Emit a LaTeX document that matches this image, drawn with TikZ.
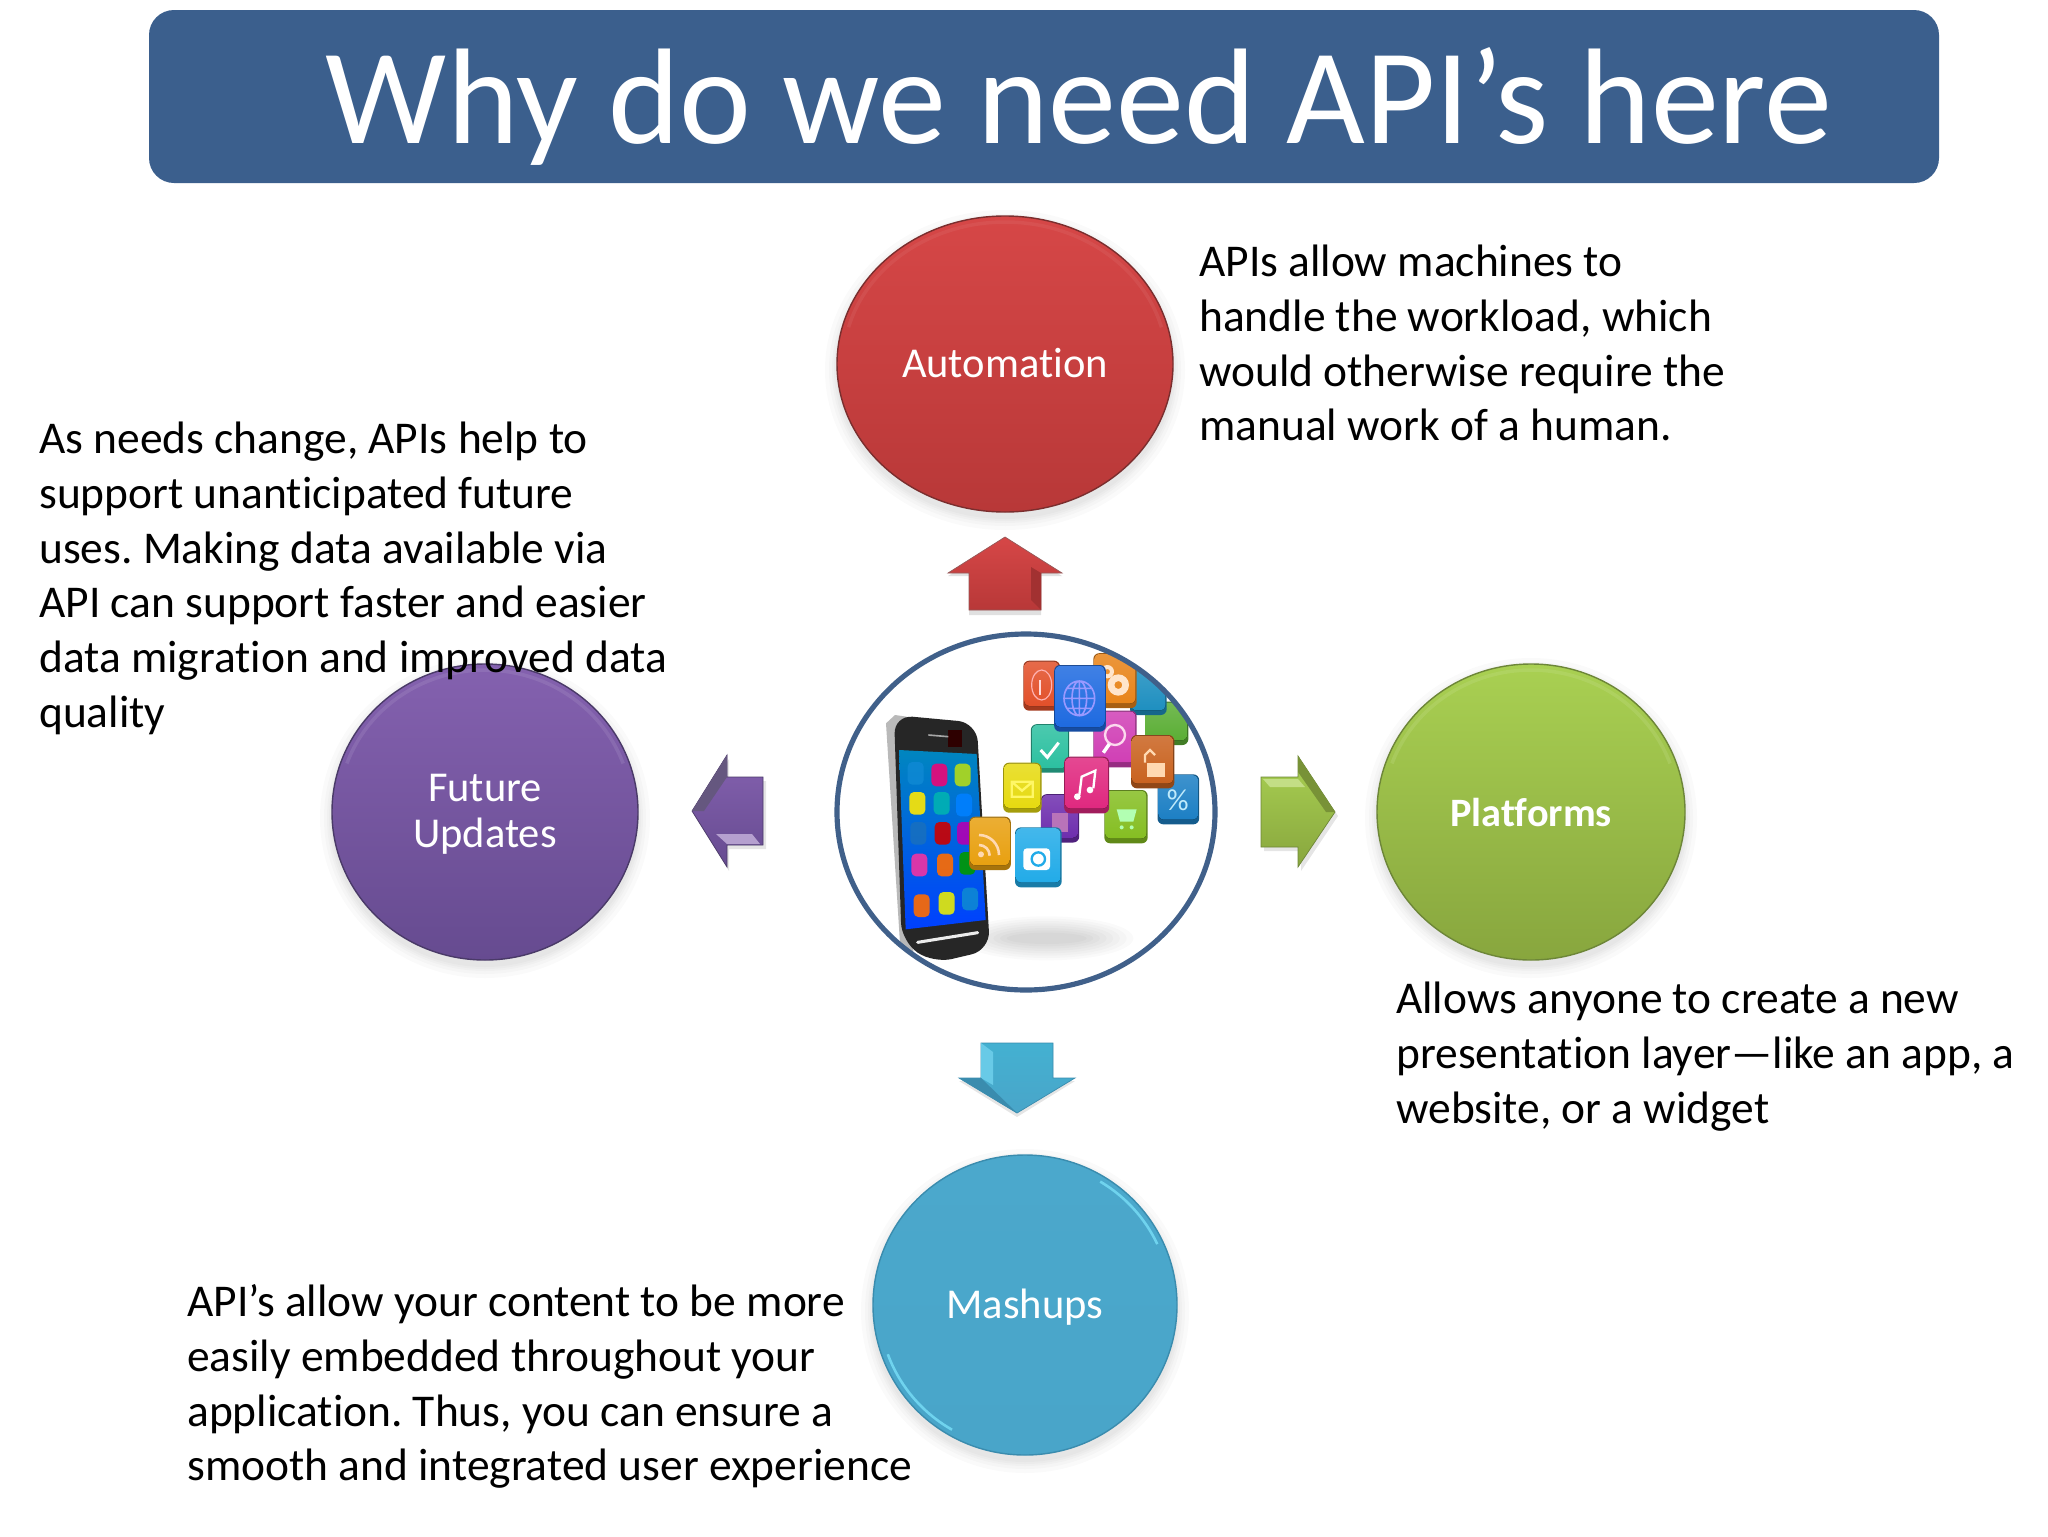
\documentclass[tikz,border=0pt]{standalone}
\usepackage{fontspec}
\setmainfont[Ligatures=NoCommon]{Carlito}
\usetikzlibrary{shapes.geometric}
\def\px{0.03cm}
\frenchspacing
\newcommand{\lowerby}[2]{\raisebox{0pt}[\dimexpr\height+#1+#1\relax][\depth]{#2}}
\newcommand{\upperby}[2]{\raisebox{0pt}[\height][\dimexpr\depth+#1+#1\relax]{#2}}
\definecolor{titleblue}{HTML}{3B5F8D}
\definecolor{ringblue}{HTML}{40608A}
\definecolor{redT}{HTML}{D64747}\definecolor{redB}{HTML}{B83838}\definecolor{redE}{HTML}{7A2E2E}
\definecolor{grnT}{HTML}{A9D052}\definecolor{grnB}{HTML}{88A63E}\definecolor{grnE}{HTML}{6D8638}
\definecolor{purT}{HTML}{8461AF}\definecolor{purB}{HTML}{664B90}\definecolor{purE}{HTML}{4A3A68}
\definecolor{bluT}{HTML}{4BA8CC}\definecolor{bluB}{HTML}{49A5C9}\definecolor{bluE}{HTML}{3A8CAE}
\definecolor{bluH}{HTML}{6FD3EE}
\definecolor{icGreenBack}{HTML}{5BAE35}\definecolor{icTealBack}{HTML}{1E8FC0}\definecolor{icOrange}{HTML}{E8841A}
\definecolor{icRed}{HTML}{E2502A}\definecolor{icTeal}{HTML}{2CC0A0}\definecolor{icMagenta}{HTML}{D03FB5}
\definecolor{icPurple}{HTML}{6E2EAE}\definecolor{icGreen}{HTML}{85BE22}\definecolor{icPct}{HTML}{1C7FC4}
\definecolor{icBrown}{HTML}{C9621F}\definecolor{icYellow}{HTML}{E6DA10}\definecolor{icPink}{HTML}{E0287F}
\definecolor{icGlobe}{HTML}{1E6AE0}\definecolor{icRss}{HTML}{E8A010}\definecolor{icCam}{HTML}{22ABE8}
\tikzset{
  x=\px,y=-\px,
  titlebox/.style={rectangle,rounded corners=0.75cm,fill=titleblue,inner sep=0pt},
  titletext/.style={text=white,inner sep=0pt,font=\fontsize{116.2}{130}\selectfont},
  bodytext/.style={text=black,inner sep=0pt,align=left,anchor=north west,font=\fontsize{38.8}{46.7}\selectfont},
  orbbase/.style={ellipse,inner sep=0pt,text=white,align=center,font=\fontsize{36.3}{39.5}\selectfont},
  softshadow/.style={fill=black,fill opacity=0.02,draw=none},
  arrowbody/.style={line join=miter,line width=0.6pt},
  facet/.style={draw=none},
}
% name, x, y, rx, ry, colour prefix, text
\newcommand{\orb}[7]{%
  \foreach \g in {1,3,5,8,12}{%
    \fill[softshadow] (#2,#3+6) ellipse [x radius=#4+\g,y radius=#5+\g];}
  \node[orbbase,minimum width=2*#4*\px,minimum height=2*#5*\px,draw=#6E,line width=1.2pt,
        top color=#6T,bottom color=#6B] (#1) at (#2,#3) {#7};
}
% centre x, centre y, rx, ry, from angle, to angle, style
\newcommand{\rimarc}[7]{%
  \draw[#7] plot[domain=#5:#6,samples=40,smooth] ({#1+#3*cos(\x)},{#2+#4*sin(\x)});
}
% centre x, centre y, w, h, colour (zoomed-crop units)
\newcommand{\appicon}[5]{%
  \colorlet{iconc}{#5}%
  \fill[iconc!72!black,rounded corners=5pt] (#1-#3/2,#2-#4/2) rectangle (#1+#3/2,#2+#4/2);
  \fill[top color=iconc!85!white,bottom color=iconc,rounded corners=5pt] (#1-#3/2+2,#2-#4/2+2) rectangle (#1+#3/2-3,#2+#4/2-14);
}
\begin{document}
\begin{tikzpicture}
\path[use as bounding box,fill=white] (0,0) rectangle (2048,1536);

% title
\node[titlebox,minimum width=1790*\px,minimum height=173*\px] (title) at (1044,96.5) {};
\node[titletext] (titlelabel) at (1079,106) {Why do we need API’s here};

% four coloured discs
\orb{auto}{1005}{364}{168}{148}{red}{\upperby{0.8pt}{Automation}}
\rimarc{1005}{364}{162}{142}{195}{345}{redT!60!white,line width=3pt,opacity=.14}
\orb{plat}{1531}{812}{154}{148}{grn}{\fontsize{34.4}{39.5}\selectfont\textbf{Platforms}}
\rimarc{1531}{812}{148}{142}{200}{340}{grnT!60!white,line width=3pt,opacity=.22}
\orb{futr}{485}{812}{153}{148}{pur}{\lowerby{2.6pt}{\begin{tabular}{@{}c@{}}Future\\Updates\end{tabular}}}
\rimarc{485}{812}{147}{142}{200}{340}{purT!60!white,line width=3pt,opacity=.22}
\orb{mash}{1025}{1305}{152}{150}{blu}{\lowerby{2.2pt}{Mashups}}
\rimarc{1025}{1305}{146}{144}{301}{335}{bluH,line width=2.2pt}
\rimarc{1025}{1305}{146}{144}{120}{160}{bluH,line width=2.2pt}

% block arrows
\fill[black,opacity=.12] (948,576)--(1005,540)--(1062,576)--(1041,576)--(1041,615)--(969,615)--(969,576)--cycle;
\path[top color=redT,bottom color=redB,draw=redE!80,arrowbody] (948,573)--(1005,537)--(1062,573)--(1041,573)--(1041,610)--(969,610)--(969,573)--cycle;
\fill[facet,redB!88!black] (1031,567)--(1041,573)--(1041,610)--(1031,600)--cycle;

\fill[black,opacity=.10] (959,1081)--(981,1081)--(981,1046)--(1053,1046)--(1053,1081)--(1075,1081)--(1017,1117)--cycle;
\path[top color=bluT!90!cyan,bottom color=bluB,draw=bluE,arrowbody] (959,1078)--(981,1078)--(981,1043)--(1053,1043)--(1053,1078)--(1075,1078)--(1017,1113)--cycle;
\fill[facet,bluH!80!bluT] (981,1043)--(993,1052)--(993,1085)--(981,1078)--cycle;
\fill[facet,bluE] (959,1078)--(981,1078)--(1017,1113)--cycle;

\fill[black,opacity=.10] (694,815)--(729,759)--(729,781)--(766,781)--(766,849)--(729,849)--(729,871)--cycle;
\path[top color=purT,bottom color=purB,draw=purE,arrowbody] (692,811)--(727,755)--(727,777)--(763,777)--(763,845)--(727,845)--(727,867)--cycle;
\fill[facet,purE!85] (692,811)--(727,755)--(727,777)--(704,811)--cycle;
\fill[facet,purT!60!white] (716,834)--(752,834)--(760,844)--(727,844)--cycle;

\fill[black,opacity=.10] (1264,781)--(1301,781)--(1301,760)--(1338,816)--(1301,871)--(1301,851)--(1264,851)--cycle;
\path[top color=grnT,bottom color=grnB,draw=grnE,arrowbody] (1261,777)--(1298,777)--(1298,756)--(1335,812)--(1298,867)--(1298,847)--(1261,847)--cycle;
\fill[facet,grnT!70!white] (1263,779)--(1298,779)--(1305,787)--(1270,787)--cycle;
\fill[facet,grnB!88!black] (1298,756)--(1335,812)--(1326,812)--(1298,772)--cycle;

% centre disc picture
\node[ellipse,inner sep=0pt,minimum width=378*\px,minimum height=356*\px,fill=white] (hub) at (1026,812) {};
\begin{scope}
\clip (1026,812) ellipse [x radius=188,y radius=177];
\begin{scope}[shift={(820,520)},scale=0.33333]
  % ground shadow
  \foreach \g in {0,10,...,70}{\fill[black,opacity=.018] (680,1255) ellipse [x radius=260-2*\g,y radius=66-\g*.7];}
  % phone
  \fill[gray!55] (198,610)--(225,585)--(260,590)--(280,1300)--(240,1270)--cycle;
  \fill[black!85,rounded corners=16pt] (222,585)--(470,608)--(510,1290)--(340,1330)--(245,1265)--cycle;
  \fill[black!55!red!40!black] (385,630)--(425,630)--(425,680)--(385,680)--cycle;
  \draw[gray!70,line width=1.4pt] (325,645)--(385,650);
  \shade[top color=blue!30!cyan!75!black,bottom color=blue!75!cyan] (237,690)--(470,702)--(497,1200)--(257,1228)--cycle;
  \draw[white!85!gray,line width=2.6pt,line cap=round] (293,1267)--(473,1238);
  \foreach \a/\b/\c in {287/760/cyan!70!blue,358/765/magenta!80!red,428/765/yellow!70!green,
     292/850/yellow!90!orange,365/850/teal!60!cyan,432/855/blue!50!cyan,
     295/940/cyan!50!blue,368/940/red!80!black,435/940/violet!60!magenta,
     298/1035/magenta!80,375/1035/orange!85!red,442/1030/green!60!black,
     305/1157/orange!85!red,380/1150/yellow!90!green,450/1137/cyan!70!blue}
     {\fill[\c,opacity=.9,rounded corners=4pt] (\a-24,\b-34) rectangle (\a+24,\b+34);}
  % floating icons, back to front
  \appicon{1040}{610}{130}{130}{icGreenBack}
  \appicon{985}{510}{110}{150}{icTealBack}
  \appicon{885}{482}{130}{165}{icOrange}
  \fill[white!80!orange,even odd rule] (895,495) circle (32) (895,495) circle (12);
  \fill[white!80!orange,even odd rule] (862,455) circle (20) (862,455) circle (8);
  \appicon{665}{497}{110}{150}{icRed}
  \draw[white!70!red,line width=1pt] (665,495) ellipse [x radius=30,y radius=45];
  \draw[white!85!red,line width=2pt] (660,480)--(660,525);
  \appicon{690}{685}{115}{145}{icTeal}
  \draw[white,line width=2.6pt] (662,690)--(682,712)--(716,668);
  \appicon{885}{657}{130}{170}{icMagenta}
  \draw[white!85!magenta,line width=2pt] (885,645) circle (30);
  \draw[white,line width=3pt] (868,672)--(850,698);
  \appicon{720}{895}{115}{145}{icPurple}
  \fill[white!45!violet] (695,880) rectangle (745,935);
  \appicon{918}{890}{130}{160}{icGreen}
  \fill[white!70!green] (890,868)--(950,868)--(940,905)--(900,905)--cycle;
  \fill[white!70!green] (905,922) circle (6) (935,922) circle (6);
  \appicon{1075}{838}{125}{150}{icPct}
  \node[text=white!75!cyan,inner sep=0pt,font=\fontsize{26}{26}\selectfont] (pct) at (1073,842) {\%};
  \appicon{998}{725}{130}{160}{icBrown}
  \fill[white!70!orange] (980,728) rectangle (1035,770);
  \draw[white!70!orange,line width=2pt] (975,728)--(975,705)--(990,690)--(1005,705);
  \appicon{607}{803}{115}{150}{icYellow}
  \draw[white!40!yellow,line width=2pt] (575,785) rectangle (638,830) (575,785)--(606,812)--(638,785);
  \appicon{800}{795}{135}{170}{icPink}
  \draw[white,line width=2pt] (778,825)--(785,770)--(826,752)--(820,805);
  \fill[white] (772,830) circle (10) (810,810) circle (10);
  \appicon{780}{535}{155}{200}{icGlobe}
  \draw[white!60!blue,line width=1.4pt] (778,535) ellipse [x radius=46,y radius=52] (778,535) ellipse [x radius=22,y radius=52]
     (732,535)--(824,535) (740,505)--(816,505) (740,565)--(816,565) (778,483)--(778,587);
  \appicon{510}{970}{125}{160}{icRss}
  \fill[white!70!orange] (483,1003) circle (9);
  \draw[white!70!orange,line width=2.2pt] (477,975) arc[start angle=-90,end angle=0,radius=32];
  \draw[white!70!orange,line width=2.2pt] (477,945) arc[start angle=-90,end angle=0,radius=60];
  \appicon{655}{1012}{140}{180}{icCam}
  \fill[white,rounded corners=3pt] (610,985) rectangle (690,1050);
  \draw[icCam,line width=2pt] (655,1017) circle (20);
\end{scope}
\end{scope}
\node[ellipse,inner sep=0pt,minimum width=378*\px,minimum height=356*\px,draw=ringblue,line width=4.4pt] (ring) at (1026,812) {};

% descriptions
\node[bodytext] (tauto) at (1199,245) {APIs allow machines to\\handle the workload, which\\would otherwise require the\\manual work of a human.};
\node[bodytext] (tfutr) at (39,422) {As needs change, APIs help to\\support unanticipated future\\uses. Making data available via\\API can support faster and easier\\data migration and improved data\\quality};
\node[bodytext] (tplat) at (1396,982) {Allows anyone to create a new\\presentation layer—like an app, a\\website, or a widget};
\node[bodytext] (tmash) at (187,1284.5) {API’s allow your content to be more\\easily embedded throughout your\\application. Thus, you can ensure a\\smooth and integrated user experience};
\end{tikzpicture}
\end{document}
